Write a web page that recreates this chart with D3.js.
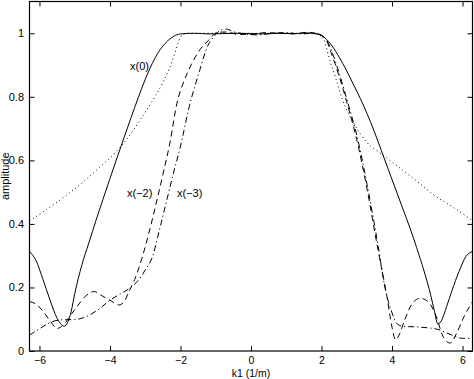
<!DOCTYPE html>
<html>
<head>
<meta charset="utf-8">
<script src="https://cdn.jsdelivr.net/npm/d3@7"></script>
<style>
  html, body { margin: 0; padding: 0; background: #fff; }
  svg text { font-family: "Liberation Sans Narrow", "Arial Narrow", "Liberation Sans", Arial, sans-serif; fill: #000; }
</style>
</head>
<body>
<svg id="chart" width="474" height="379"></svg>
<script>
// ---- data ----
const xTicks = [-6, -4, -2, 0, 2, 4, 6];
const yTicks = [0, 0.2, 0.4, 0.6, 0.8, 1];
const xLabel = "k1 (1/m)";
const yLabel = "amplitude";

const kSolid = [-6.283, -6.1, -5.9, -5.7, -5.5, -5.4, -5.3, -5.2, -5.1, -5.0, -4.8, -4.6, -4.4, -4.2, -4.0, -3.8, -3.6, -3.4, -3.2, -3.0, -2.8, -2.6, -2.4, -2.2, -2.0, -1.6, -1.2, -0.8, -0.4, 0, 0.4, 0.8, 1.2, 1.6, 1.9, 2.1, 2.3, 2.5, 2.7, 2.9, 3.1, 3.3, 3.5, 3.7, 3.9, 4.1, 4.3, 4.5, 4.7, 4.9, 5.1, 5.2, 5.3, 5.4, 5.55, 5.7, 5.9, 6.1, 6.283];
const ampSolid = [0.313, 0.285, 0.225, 0.16, 0.103, 0.086, 0.078, 0.09, 0.125, 0.18, 0.27, 0.34, 0.41, 0.477, 0.543, 0.608, 0.672, 0.735, 0.797, 0.855, 0.905, 0.945, 0.972, 0.99, 0.998, 1.0, 0.998, 0.999, 1.0, 0.999, 0.998, 1.0, 0.999, 1.001, 0.997, 0.985, 0.96, 0.925, 0.885, 0.84, 0.795, 0.745, 0.69, 0.63, 0.57, 0.51, 0.45, 0.39, 0.325, 0.255, 0.175, 0.127, 0.085, 0.095, 0.14, 0.19, 0.25, 0.298, 0.313];

const kDotted = [-6.283, -5.8, -5.3, -4.8, -4.3, -3.8, -3.4, -3.0, -2.7, -2.5, -2.3, -2.15, -2.05, -1.95, -1.8, -1.0, 0, 1.0, 1.9, 2.05, 2.15, 2.25, 2.4, 2.6, 2.9, 3.3, 3.7, 4.2, 4.7, 5.2, 5.7, 6.283];
const ampDotted = [0.41, 0.445, 0.485, 0.528, 0.578, 0.63, 0.685, 0.752, 0.805, 0.845, 0.893, 0.94, 0.975, 0.995, 1.0, 1.0, 1.0, 1.0, 0.998, 0.985, 0.95, 0.91, 0.86, 0.79, 0.72, 0.655, 0.62, 0.578, 0.535, 0.49, 0.455, 0.41];

const kDashed = [-6.283, -6.1, -5.9, -5.7, -5.5, -5.3, -5.1, -4.9, -4.7, -4.45, -4.2, -4.0, -3.75, -3.6, -3.45, -3.3, -3.1, -2.9, -2.7, -2.5, -2.3, -2.1, -1.9, -1.7, -1.45, -1.2, -0.95, -0.7, -0.4, 0, 0.4, 0.8, 1.2, 1.6, 1.9, 2.1, 2.3, 2.5, 2.75, 3.0, 3.3, 3.6, 3.85, 4.0, 4.1, 4.2, 4.35, 4.55, 4.8, 5.05, 5.25, 5.45, 5.65, 5.85, 6.05, 6.283];
const ampDashed = [0.155, 0.148, 0.125, 0.095, 0.071, 0.085, 0.115, 0.145, 0.172, 0.187, 0.172, 0.16, 0.145, 0.155, 0.19, 0.225, 0.29, 0.37, 0.46, 0.555, 0.655, 0.78, 0.85, 0.9, 0.948, 0.978, 1.003, 1.004, 0.997, 0.996, 1.002, 1.0, 0.998, 1.003, 0.998, 0.985, 0.93, 0.865, 0.77, 0.665, 0.505, 0.32, 0.175, 0.075, 0.035, 0.05, 0.095, 0.145, 0.166, 0.152, 0.11, 0.045, 0.025, 0.06, 0.11, 0.155];

const kDashDot = [-6.283, -6.0, -5.75, -5.4, -5.0, -4.6, -4.3, -4.0, -3.7, -3.45, -3.2, -3.0, -2.8, -2.6, -2.4, -2.2, -2.0, -1.75, -1.45, -1.25, -1.05, -0.85, -0.7, -0.5, -0.2, 0.2, 0.6, 1.0, 1.4, 1.8, 2.0, 2.15, 2.3, 2.5, 2.75, 3.0, 3.3, 3.6, 3.8, 4.0, 4.15, 4.3, 4.8, 5.3, 5.7, 6.0, 6.283];
const ampDashDot = [0.05, 0.07, 0.087, 0.098, 0.099, 0.112, 0.133, 0.16, 0.18, 0.197, 0.222, 0.255, 0.295, 0.38, 0.47, 0.56, 0.645, 0.77, 0.885, 0.955, 0.99, 1.01, 1.013, 1.005, 0.998, 0.995, 1.0, 1.002, 0.998, 1.0, 0.993, 0.978, 0.94, 0.875, 0.78, 0.68, 0.52, 0.335, 0.2, 0.12, 0.085, 0.078, 0.075, 0.068, 0.05, 0.04, 0.04];

const curveLabels = ["x(0)", "x(\u22122)", "x(\u22123)"];

// ---- layout ----
const svg = d3.select("#chart");
const m = { left: 29.5, right: 472.5, top: 1.5, bottom: 351 };
const x = d3.scaleLinear().domain([-2 * Math.PI, 2 * Math.PI]).range([m.left, m.right]);
const y = d3.scaleLinear().domain([0, 1.1]).range([m.bottom, m.top]);

svg.append("defs").append("clipPath").attr("id", "clip")
  .append("rect").attr("x", m.left).attr("y", m.top)
  .attr("width", m.right - m.left).attr("height", m.bottom - m.top);

const fs = 11;
function styleAxis(size) {
  return g => {
    g.selectAll(".domain").remove();
    g.selectAll(".tick line").attr("stroke", "#000").attr("stroke-width", 1);
    g.selectAll("text").attr("font-size", size).attr("font-family", null);
  };
}

svg.append("g").attr("transform", `translate(0,${m.bottom})`)
  .call(d3.axisBottom(x).tickValues(xTicks).tickSizeInner(-5).tickSizeOuter(0).tickPadding(6))
  .call(styleAxis(10.5));
svg.append("g").attr("transform", `translate(0,${m.top})`)
  .call(d3.axisTop(x).tickValues(xTicks).tickSizeInner(-5).tickSizeOuter(0).tickFormat(""))
  .call(styleAxis(fs));
svg.append("g").attr("transform", `translate(${m.left},0)`)
  .call(d3.axisLeft(y).tickValues(yTicks).tickSizeInner(-5).tickSizeOuter(0).tickPadding(5.5).tickFormat(d3.format("~g")))
  .call(styleAxis(fs));
svg.append("g").attr("transform", `translate(${m.right},0)`)
  .call(d3.axisRight(y).tickValues(yTicks).tickSizeInner(-5).tickSizeOuter(0).tickFormat(""))
  .call(styleAxis(fs));

svg.append("rect").attr("x", m.left).attr("y", m.top)
  .attr("width", m.right - m.left).attr("height", m.bottom - m.top)
  .attr("fill", "none").attr("stroke", "#000").attr("stroke-width", 1.2);

// ---- curves ----
const line = d3.line().x(d => x(d[0])).y(d => y(d[1])).curve(d3.curveMonotoneX);
const series = [
  { k: kDotted, a: ampDotted, dash: "1,3" },
  { k: kSolid, a: ampSolid, dash: null },
  { k: kDashed, a: ampDashed, dash: "6,4" },
  { k: kDashDot, a: ampDashDot, dash: "6,3,1.2,3" }
];
const gLines = svg.append("g").attr("clip-path", "url(#clip)");
series.forEach(s => {
  gLines.append("path")
    .datum(d3.zip(s.k, s.a))
    .attr("d", line)
    .attr("fill", "none")
    .attr("stroke", "#000")
    .attr("stroke-width", 1)
    .attr("stroke-dasharray", s.dash);
});

// ---- annotations ----
svg.append("text").attr("x", 130).attr("y", 70).attr("font-size", fs).text(curveLabels[0]);
svg.append("text").attr("x", 127).attr("y", 197).attr("font-size", fs).text(curveLabels[1]);
svg.append("text").attr("x", 177).attr("y", 197).attr("font-size", fs).text(curveLabels[2]);

svg.append("text").attr("x", (m.left + m.right) / 2).attr("y", 376.5)
  .attr("text-anchor", "middle").attr("font-size", 10.5).text(xLabel);
svg.append("text").attr("transform", `translate(9,${(m.top + m.bottom) / 2}) rotate(-90)`)
  .attr("text-anchor", "middle").attr("font-size", fs).text(yLabel);
</script>
</body>
</html>
